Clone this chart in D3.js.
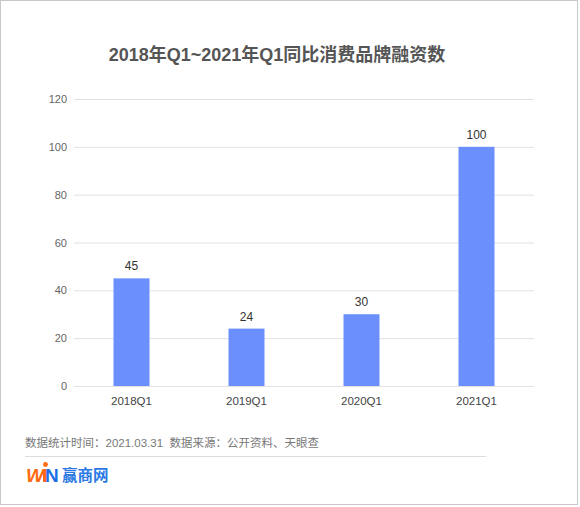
<!DOCTYPE html>
<html><head><meta charset="utf-8">
<script src="https://cdn.jsdelivr.net/npm/d3@7"></script>
<style>body{margin:0;background:#fff}svg{display:block}</style>
</head><body>
<script>
const categories = ["2018Q1","2019Q1","2020Q1","2021Q1"];
const values = [45,24,30,100];
const yTicks = [0,20,40,60,80,100,120];
const title = "2018年Q1~2021年Q1同比消费品牌融资数";
const footnote = "数据统计时间：2021.03.31  数据来源：公开资料、天眼查";

const W = 580, H = 507;
const font = "Arial, 'Liberation Sans', 'Noto Sans CJK SC', sans-serif";
const svg = d3.select("body").append("svg").attr("width", W).attr("height", H)
  .style("font-family", font);

svg.append("rect").attr("x",0.5).attr("y",0.5).attr("width",W-3).attr("height",H-3)
  .attr("fill","#fff").attr("stroke","#c8c8c8");

svg.append("text").attr("x",277).attr("y",61).attr("text-anchor","middle")
  .attr("font-size",18).attr("font-weight","bold").attr("fill","#555").text(title);

const x = d3.scaleBand().domain(categories).range([74,534]).paddingInner(0.687).paddingOuter(0.3435);
const y = d3.scaleLinear().domain([0,120]).range([386,99]);

const grid = svg.append("g");
grid.selectAll("line").data(yTicks).join("line")
  .attr("x1",74).attr("x2",534).attr("y1",d=>y(d)+0.5).attr("y2",d=>y(d)+0.5)
  .attr("stroke","#e2e2e2");

const yAxis = svg.append("g").attr("transform","translate(74,0)")
  .call(d3.axisLeft(y).tickValues(yTicks).tickSize(0).tickPadding(7));
yAxis.select(".domain").remove();
yAxis.selectAll("text").attr("font-size",11).style("fill","#666").style("font-family",font);

svg.append("g").selectAll("rect").data(values).join("rect")
  .attr("x",(d,i)=>x(categories[i])).attr("width",x.bandwidth())
  .attr("y",d=>y(d)).attr("height",d=>y(0)-y(d)).attr("fill","#6b8ffd");

svg.append("g").selectAll("text").data(values).join("text")
  .attr("x",(d,i)=>x(categories[i])+x.bandwidth()/2).attr("y",d=>y(d)-8)
  .attr("text-anchor","middle").attr("font-size",12).attr("fill","#333").text(d=>d);

const xAxis = svg.append("g").attr("transform","translate(0,386)")
  .call(d3.axisBottom(x).tickSize(0).tickPadding(11));
xAxis.select(".domain").remove();
xAxis.selectAll("text").attr("font-size",11.5).style("fill","#444").style("font-family",font);

svg.append("text").attr("x",25).attr("y",447).attr("font-size",11.5).attr("fill","#777")
  .style("white-space","pre").text(footnote);
svg.append("line").attr("x1",25).attr("x2",486).attr("y1",456.5).attr("y2",456.5).attr("stroke","#ddd");

const logo = svg.append("g");
logo.append("text").attr("x",26).attr("y",482).attr("font-size",19).attr("font-weight","900")
  .attr("font-style","italic").attr("fill","#ff6a10").text("W");
logo.append("rect").attr("x",43).attr("y",469).attr("width",3.5).attr("height",13).attr("fill","#ff6a10");
logo.append("circle").attr("cx",45.5).attr("cy",464.5).attr("r",2.4).attr("fill","#ff6a10");
logo.append("text").attr("x",45).attr("y",482).attr("font-size",19).attr("font-weight","900")
  .attr("fill","#1f6fe5").text("N");
logo.append("text").attr("x",62).attr("y",481).attr("font-size",15.5).attr("font-weight","bold")
  .attr("fill","#2a78e4").text("赢商网");
</script>
</body></html>
